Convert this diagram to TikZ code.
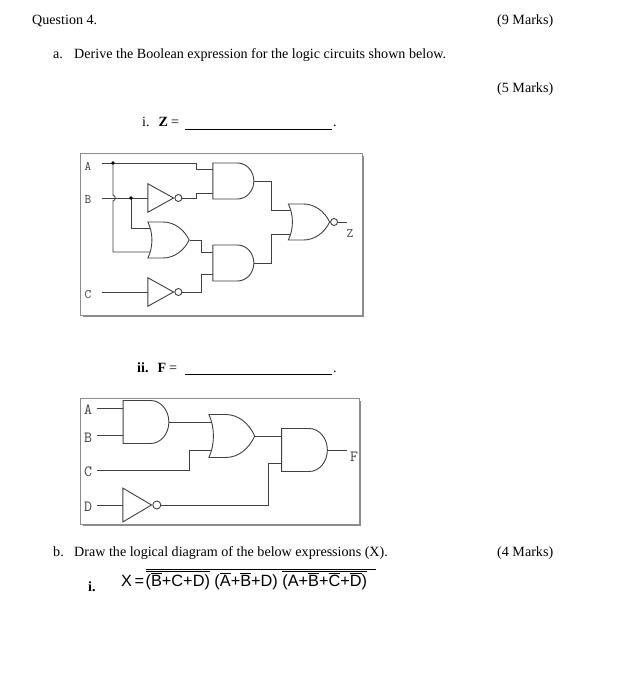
\documentclass[tikz,border=0pt]{standalone}
\usepackage{fontspec}
\setmainfont{Liberation Serif}
\setsansfont{Liberation Sans}
\usetikzlibrary{calc, backgrounds, shapes.gates.logic.US}
\newcommand{\barred}[1]{$\overline{\mbox{#1}}$}
\tikzset{
	wire/.style={draw=black!75, line width=0.9pt},
	txt/.style={black, anchor=base west, inner sep=0pt, font=\fontsize{14.1}{16}\selectfont},
	sig/.style={black!75, inner sep=0pt, font=\ttfamily\fontsize{13}{14}\selectfont},
	sigb/.style={black!75, inner sep=0pt, font=\ttfamily\fontsize{15.5}{16}\selectfont},
	gatebase/.style={draw=black!75, fill=white, line width=0.9pt, inner sep=0pt, logic gate inputs=nn, minimum height=#1, minimum width=#1},
	andg/.style={and gate US, gatebase=36pt, xscale=0.91, transform shape},
	org/.style={or gate US, gatebase=36pt, xscale=0.84, transform shape},
	andb/.style={and gate US, gatebase=43pt, xscale=0.85, transform shape},
	orb/.style={or gate US, gatebase=43pt, xscale=0.78, transform shape},
	bufg/.style={buffer gate US, gatebase=24.5pt, xscale=0.86, transform shape},
	bufb/.style={buffer gate US, gatebase=29pt, xscale=0.81, transform shape},
	bub/.style={circle, draw=black!75, fill=white, line width=0.9pt, inner sep=0pt, minimum size=#1, anchor=west},
	frm/.style={draw=black!45, line width=0.8pt, fill=white},
	shd/.style={draw=none, fill=black!45},
}
\begin{document}
\begin{tikzpicture}[x=1pt, y=-1pt]
	\useasboundingbox (0,0) rectangle (621,700);
	\node[txt] (qhead) at (32,25) {Question 4.};
	\node[txt] (qmarks) at (497,25) {(9 Marks)};
	\node[txt] (alabel) at (53,59) {a.};
	\node[txt] (atext) at (74,59) {Derive the Boolean expression for the logic circuits shown below.};
	\node[txt] (amarks) at (497,93) {(5 Marks)};
	\node[txt] (zlabel) at (142,127) {i.\hspace{9pt}\textbf{Z}\hspace{3pt}=};
	\coordinate (zlinea) at (185,129);
	\coordinate (zlineb) at (332,129);
	\node[txt] (zdot) at (333,127) {.};
	\draw[black, thin] (zlinea) -- (zlineb);
	\node[txt] (flabel) at (137,372) {\textbf{ii.}\hspace{9pt}\textbf{F}\hspace{3pt}=};
	\coordinate (flinea) at (185,374);
	\coordinate (flineb) at (332,374);
	\node[txt] (fdot) at (333,372) {.};
	\draw[black, thin] (flinea) -- (flineb);
	\node[txt] (blabel) at (53,556) {b.};
	\node[txt] (btext) at (74,556) {Draw the logical diagram of the below expressions (X).};
	\node[txt] (bmarks) at (497,556) {(4 Marks)};
	\node[txt] (ilabel) at (88,591) {\textbf{i.}};
	\node[txt, font=\sffamily\fontsize{16.3}{18}\selectfont] (xexpr) at (121,586) {X\hspace{-2pt} =\hspace{-3pt} $\overline{\overline{\mbox{(\barred{B}+C+D)}}\mbox{ (\barred{A}+\barred{B}+D) }\overline{\mbox{(A+\barred{B}+\barred{C}+\barred{D})}}\hspace{9pt}}$};

	\begin{pgfonlayer}{background}
		\fill[shd] (83,156) rectangle (364,317);
		\filldraw[frm] (80,153) rectangle (362,315);
		\fill[shd] (83,401) rectangle (361,526);
		\filldraw[frm] (80,398) rectangle (359,524);
	\end{pgfonlayer}
	\node[sig] (la) at (88,166) {A};
	\node[sig] (lb) at (88,200) {B};
	\node[sig] (lc) at (88,295) {C};
	\node[sig] (lz) at (350,234) {Z};
	\coordinate (ina) at (102,163);
	\coordinate (inb) at (102,198);
	\coordinate (inc) at (102,292);
	\coordinate (jmpa) at (113,195);
	\coordinate (jmpb) at (113,201);
	\node[bufg] (n1) at (156.6,198) {};
	\node[bub=7pt] (c1) at (n1.output) {};
	\node[bufg] (n2) at (156.6,292) {};
	\node[bub=7pt] (c2) at (n2.output) {};
	\node[org] (o1) at (165.5,240) {};
	\node[andg] (a1) at (232,181) {};
	\node[andg] (a2) at (232,263) {};
	\node[org] (nr) at (306,222) {};
	\node[bub=7pt] (c3) at (nr.output) {};
	\coordinate (dota) at (113,163);
	\coordinate (dotb) at (131,198);
	\coordinate (joga) at (196,163);
	\coordinate (jogb) at (201,252);
	\coordinate (jogc) at (271,222);
	\coordinate (outz) at (347,222);
	\begin{pgfonlayer}{background}
		\draw[wire] (ina) -- (joga) |- ($(a1.center)+(0,-12)$);
		\draw[wire] (inb) -- (n1.center);
		\draw[wire] (dota) -- (jmpa) .. controls (116,196) and (116,200) .. (jmpb) |- ($(o1.center)+(0,12)$);
		\draw[wire] (dotb) |- ($(o1.center)+(0,-12)$);
		\draw[wire] (c1.east) -- (joga |- c1.east) |- ($(a1.center)+(0,12)$);
		\draw[wire] (o1.output) -- (jogb |- o1.output) |- ($(a2.center)+(0,-11)$);
		\draw[wire] (c2.east) -- (jogb |- c2.east) |- ($(a2.center)+(0,11)$);
		\draw[wire] (inc) -- (n2.center);
		\draw[wire] (a1.output) -- (jogc |- a1.output) |- ($(nr.center)+(0,-12)$);
		\draw[wire] (a2.output) -- (jogc |- a2.output) |- ($(nr.center)+(0,12)$);
		\draw[wire] (c3.east) -- (outz);
	\end{pgfonlayer}
	\fill[black] (dota) circle (1.8);
	\fill[black] (dotb) circle (1.8);

	\node[sigb] (ld) at (88,410) {A};
	\node[sigb] (le) at (88,438) {B};
	\node[sigb] (lf) at (88,472) {C};
	\node[sigb] (lg) at (88,507) {D};
	\node[sigb] (lh) at (354,457) {F};
	\node[andb] (a3) at (144.5,422) {};
	\node[orb] (o2) at (228.5,436) {};
	\node[andb] (a4) at (303,450) {};
	\node[bufb] (n3) at (132.7,505) {};
	\node[bub=8pt] (c4) at (n3.output) {};
	\coordinate (inp) at (97,470);
	\coordinate (ind) at (97,505);
	\coordinate (joge) at (189,470);
	\coordinate (jogf) at (268,505);
	\coordinate (outf) at (347,450);
	\coordinate (ine) at (97,408);
	\coordinate (inf) at (97,435);
	\begin{pgfonlayer}{background}
		\draw[wire] (ine) -- (ine -| a3.center);
		\draw[wire] (inf) -- (inf -| a3.center);
		\draw[wire] (a3.output) -- (o2.center |- a3.output);
		\draw[wire] (inp) -- (joge) |- (o2.center |- 0,450);
		\draw[wire] (o2.output) -- (a4.center |- o2.output);
		\draw[wire] (ind) -- (n3.center);
		\draw[wire] (c4.east) -- (jogf) |- (a4.center |- 0,463);
		\draw[wire] (a4.output) -- (outf);
	\end{pgfonlayer}
\end{tikzpicture}
\end{document}
